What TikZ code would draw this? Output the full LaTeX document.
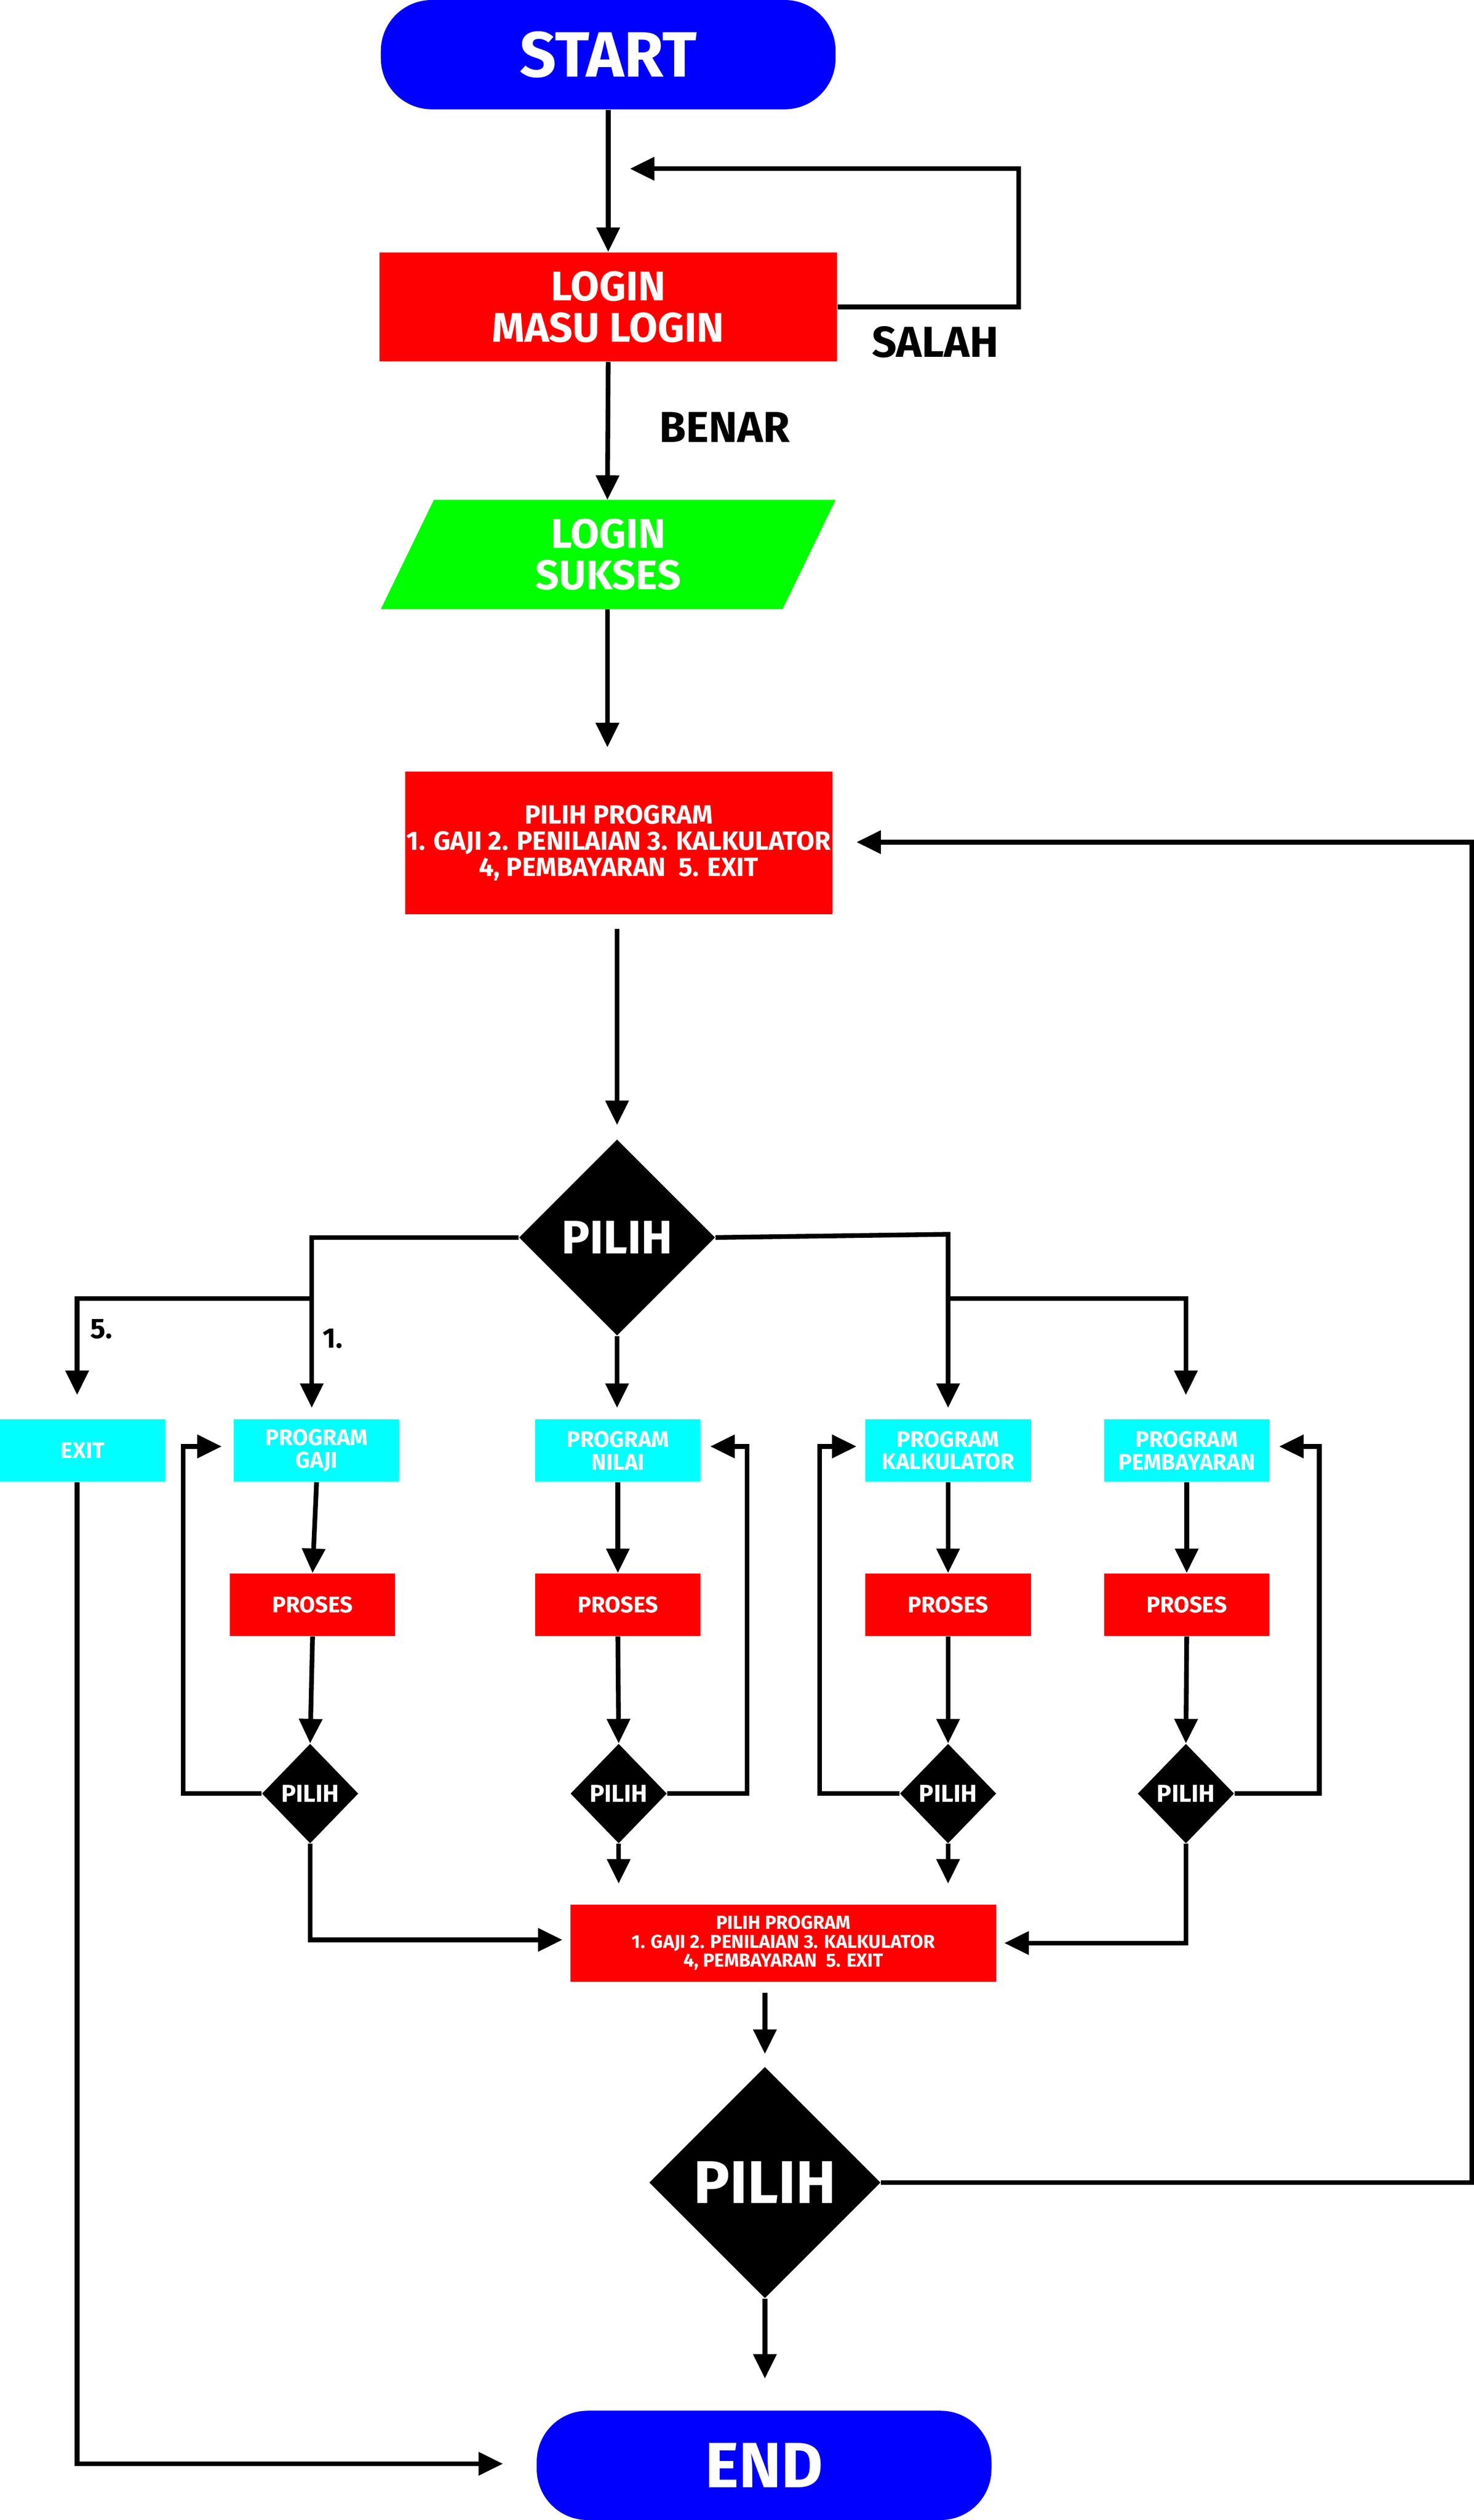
\documentclass[tikz,border=0pt]{standalone}
\usepackage{fontspec}
\setmainfont{Fira Sans}
\usetikzlibrary{shapes.geometric,arrows.meta}
\definecolor{cblue}{RGB}{0,0,255}
\definecolor{cred}{RGB}{255,0,0}
\definecolor{cgreen}{RGB}{0,255,0}
\definecolor{ccyan}{RGB}{0,255,255}
\newcommand{\fs}[1]{\fontsize{#1}{#1*1.2}\selectfont\bfseries}
\tikzset{
  base/.style={inner sep=0pt, text=white, align=center, font=\fs{22pt}},
  term/.style={base, fill=cblue, rounded corners=0.95cm, minimum width=283*0.03cm, minimum height=68*0.03cm, font=\fs{34pt}},
  redbox/.style={base, fill=cred},
  cyanbox/.style={base, fill=ccyan, minimum width=103*0.03cm, minimum height=39*0.03cm, font=\fs{12pt}},
  proses/.style={base, fill=cred, minimum width=103*0.03cm, minimum height=39*0.03cm, font=\fs{12pt}},
  dia/.style={base, diamond, fill=black},
  lbl/.style={font=\fs{23pt}, text=black, inner sep=0pt},
  ln/.style={line width=2.5pt},
  ar/.style={ln, -{Triangle[length=13pt,width=12pt]}},
}
\begin{document}
\begin{tikzpicture}[x=0.03cm,y=-0.03cm]
\useasboundingbox (0,0) rectangle (917,1568);
\node[term] (start) at (378.5,34) {START};
\node[redbox, minimum width=285*0.03cm, minimum height=68*0.03cm] (login) at (378.5,191) {LOGIN\\MASU LOGIN};
\node[lbl] at (582,213) {SALAH};
\node[lbl] at (451,266) {BENAR};
\fill[cgreen] (270,311) -- (520,311) -- (487,379) -- (237,379) -- cycle;
\node[base] (sukses) at (378.5,345) {LOGIN\\SUKSES};
\coordinate (suksesTop) at (378,311);
\coordinate (suksesBot) at (378,379);
\node[redbox, minimum width=266*0.03cm, minimum height=89*0.03cm, font=\fs{14pt}] (pilihprog) at (385,524.5) {PILIH PROGRAM\\1. GAJI 2. PENILAIAN 3. KALKULATOR\\4, PEMBAYARAN\ \ 5. EXIT};
\node[dia, minimum width=122*0.03cm, minimum height=122*0.03cm, font=\fs{25pt}] (d1) at (384,770) {PILIH};
% cyan
\node[cyanbox] (exit) at (51.5,902.5) {EXIT};
\node[cyanbox] (gaji) at (197,902.5) {PROGRAM\\GAJI};
\node[cyanbox] (nilai) at (384.5,902.5) {PROGRAM\\NILAI};
\node[cyanbox] (kalk) at (590,902.5) {PROGRAM\\KALKULATOR};
\node[cyanbox] (pemb) at (738.5,902.5) {PROGRAM\\PEMBAYARAN};
\node[proses] (p1) at (194.5,998.5) {PROSES};
\node[proses] (p2) at (384.5,998.5) {PROSES};
\node[proses] (p3) at (590,998.5) {PROSES};
\node[proses] (p4) at (738.5,998.5) {PROSES};
\foreach \n/\x in {s1/193,s2/385,s3/590,s4/738}
  \node[dia, minimum width=60*0.03cm, minimum height=62*0.03cm, font=\fs{13pt}] (\n) at (\x,1116) {PILIH};
\node[redbox, minimum width=265*0.03cm, minimum height=48*0.03cm, font=\fs{10pt}] (pilih2) at (487.5,1209) {PILIH PROGRAM\\1. GAJI 2. PENILAIAN 3. KALKULATOR\\4, PEMBAYARAN\ \ 5. EXIT};
\node[dia, minimum width=144*0.03cm, minimum height=144*0.03cm, font=\fs{32pt}] (d2) at (476,1358) {PILIH};
\node[term] (end) at (475.5,1534) {END};
% connectors
\draw[ar] (start.south) -- (login.north);
\draw[ar] (login.east) -- (634,191) -- (634,105) -- (392,105);
\draw[ar] (login.south) -- (suksesTop);
\draw[ar] (suksesBot) -- (378,465);
\draw[ar] (384,578) -- (384,700);
\draw[ar] (d1.west) -- (194,770) -- (194,876);
\draw[ar] (194,808) -- (48,808) -- (48,868);
\node[lbl, font=\fs{15pt}] at (63,827) {5.};
\node[lbl, font=\fs{15pt}] at (207,833) {1.};
\draw[ar] (d1.south) -- (384,876);
\draw[ar] (d1.east) -- (590,768) -- (590,876);
\draw[ar] (590,808) -- (738,808) -- (738,868);
\foreach \a/\b/\c in {gaji/p1/s1,nilai/p2/s2,kalk/p3/s3,pemb/p4/s4}{
  \draw[ar] (\a.south) -- (\b.north);
  \draw[ar] (\b.south) -- (\c.north);
}
\draw[ar] (s1.west) -- (114,1116) -- (114,900) -- (138,900);
\draw[ar] (s2.east) -- (465,1116) -- (465,900) -- (442,900);
\draw[ar] (s3.west) -- (510,1116) -- (510,900) -- (533,900);
\draw[ar] (s4.east) -- (821,1116) -- (821,900) -- (796,900);
\draw[ar] (s1.south) -- (193,1207) -- (350,1207);
\draw[ar] (s2.south) -- (385,1172);
\draw[ar] (s3.south) -- (590,1172);
\draw[ar] (s4.south) -- (738,1209) -- (625,1209);
\draw[ar] (476,1240) -- (476,1278);
\draw[ar] (d2.east) -- (916,1358) -- (916,524) -- (533,524);
\draw[ar] (d2.south) -- (476,1480);
\draw[ar] (exit.south -| 48,0) -- (48,1533) -- (313,1533);
\end{tikzpicture}
\end{document}
